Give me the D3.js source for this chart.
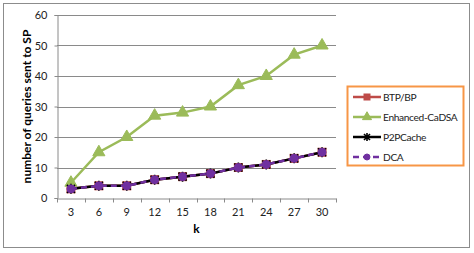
<!DOCTYPE html>
<html>
<head>
<meta charset="utf-8">
<script src="https://cdn.jsdelivr.net/npm/d3@7"></script>
<style>
  body { margin: 0; background: #fff; }
  text { font-family: Lato, "Open Sans", sans-serif; }
</style>
</head>
<body>
<div id="chart"></div>
<script>
const kValues = [3, 6, 9, 12, 15, 18, 21, 24, 27, 30];
const btpBp = [3, 4, 4, 6, 7, 8, 10, 11, 13, 15];
const enhancedCaDSA = [5, 15, 20, 27, 28, 30, 37, 40, 47, 50];
const p2pCache = [3, 4, 4, 6, 7, 8, 10, 11, 13, 15];
const dca = [3, 4, 4, 6, 7, 8, 10, 11, 13, 15];
const yTicks = [0, 10, 20, 30, 40, 50, 60];

const series = [
  { name: "BTP/BP", values: btpBp, color: "#be4b48", marker: "square", dash: null },
  { name: "Enhanced-CaDSA", values: enhancedCaDSA, color: "#9bbb59", marker: "triangle", dash: null },
  { name: "P2PCache", values: p2pCache, color: "#000000", marker: "star", dash: null },
  { name: "DCA", values: dca, color: "#7030a0", marker: "circle", dash: "6,4" }
];

const W = 474, H = 253;
const plot = { left: 57, right: 336, top: 15, bottom: 198 };

const svg = d3.select("#chart").append("svg")
  .attr("width", W).attr("height", H);

// outer frame
svg.append("rect")
  .attr("x", 3.5).attr("y", 3.5).attr("width", 466).attr("height", 244)
  .attr("fill", "#fff").attr("stroke", "#8c8c8c").attr("stroke-width", 1);

const x = d3.scaleBand().domain(kValues).range([plot.left, plot.right]);
const y = d3.scaleLinear().domain([0, 60]).range([plot.bottom, plot.top]);

// gridlines
svg.append("g").selectAll("line")
  .data(yTicks.filter(d => d > 0))
  .join("line")
  .attr("x1", plot.left).attr("x2", plot.right)
  .attr("y1", d => Math.round(y(d)) + 0.5).attr("y2", d => Math.round(y(d)) + 0.5)
  .attr("stroke", "#8a8a8a").attr("stroke-width", 1);

// y axis
const yAxis = svg.append("g")
  .attr("transform", `translate(${plot.left + 0.5},0)`)
  .call(d3.axisLeft(y).tickValues(yTicks).tickSize(3).tickPadding(7));
yAxis.select(".domain").attr("stroke", "#8a8a8a");
yAxis.selectAll(".tick line").attr("stroke", "#8a8a8a");
yAxis.selectAll(".tick text").attr("font-size", 11).attr("fill", "#222")
  .style("font-family", "Lato, sans-serif");

// x axis
const xAxis = svg.append("g")
  .attr("transform", `translate(0,${plot.bottom + 0.5})`)
  .call(d3.axisBottom(x).tickSize(0).tickPadding(10));
xAxis.select(".domain").attr("stroke", "#8a8a8a");
xAxis.selectAll(".tick text").attr("font-size", 11).attr("fill", "#222")
  .style("font-family", "Lato, sans-serif");
// boundary ticks between categories
xAxis.append("g").selectAll("line")
  .data(kValues.concat([null]))
  .join("line")
  .attr("x1", (d, i) => Math.round(plot.left + i * x.bandwidth()) + 0.5)
  .attr("x2", (d, i) => Math.round(plot.left + i * x.bandwidth()) + 0.5)
  .attr("y1", 0).attr("y2", 4)
  .attr("stroke", "#8a8a8a");

// axis titles
svg.append("text")
  .attr("x", (plot.left + plot.right) / 2).attr("y", 233)
  .attr("text-anchor", "middle").attr("font-size", 12).attr("font-weight", "bold")
  .text("k");
svg.append("text")
  .attr("transform", `translate(31,${(plot.top + plot.bottom) / 2}) rotate(-90)`)
  .attr("text-anchor", "middle").attr("font-size", 12).attr("font-weight", "bold")
  .text("number of queries sent to SP");

const line = d3.line()
  .x((d, i) => x(kValues[i]) + x.bandwidth() / 2)
  .y(d => y(d));

function drawMarker(g, type, color, size) {
  if (type === "square") {
    g.append("rect").attr("x", -size).attr("y", -size)
      .attr("width", size * 2).attr("height", size * 2)
      .attr("fill", color).attr("stroke", color);
  } else if (type === "triangle") {
    g.append("path").attr("d", d3.symbol(d3.symbolTriangle, size * size * 4)())
      .attr("fill", color).attr("stroke", color);
  } else if (type === "star") {
    g.append("path").attr("d", `M${-size},${-size}L${size},${size}M${-size},${size}L${size},${-size}M0,${-size - 1}L0,${size + 1}`)
      .attr("stroke", color).attr("stroke-width", 1.6).attr("fill", "none");
  } else if (type === "circle") {
    g.append("circle").attr("r", size).attr("fill", color).attr("stroke", color);
  }
}

series.forEach(s => {
  const g = svg.append("g");
  g.append("path").datum(s.values)
    .attr("d", line)
    .attr("fill", "none")
    .attr("stroke", s.color)
    .attr("stroke-width", 2.5)
    .attr("stroke-dasharray", s.dash);
  s.values.forEach((v, i) => {
    const m = g.append("g")
      .attr("transform", `translate(${x(kValues[i]) + x.bandwidth() / 2},${y(v)})`);
    drawMarker(m, s.marker, s.color, 4);
  });
});

// legend
const legend = svg.append("g");
legend.append("rect")
  .attr("x", 347.5).attr("y", 86.5).attr("width", 116).attr("height", 79)
  .attr("fill", "#fff").attr("stroke", "#f79646").attr("stroke-width", 2);
series.forEach((s, i) => {
  const ly = 97 + i * 20;
  const item = legend.append("g");
  item.append("line")
    .attr("x1", 353).attr("x2", 381).attr("y1", ly).attr("y2", ly)
    .attr("stroke", s.color).attr("stroke-width", 2.5)
    .attr("stroke-dasharray", s.dash);
  const m = item.append("g").attr("transform", `translate(367,${ly})`);
  drawMarker(m, s.marker, s.color, 3);
  item.append("text")
    .attr("x", 383).attr("y", ly + 4)
    .attr("font-size", 10.2).attr("letter-spacing", -0.35).attr("fill", "#222")
    .text(s.name);
});
</script>
</body>
</html>
